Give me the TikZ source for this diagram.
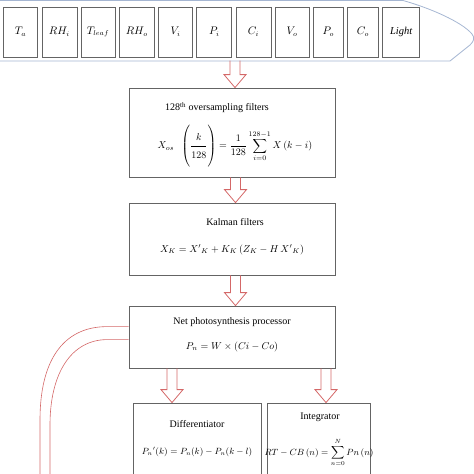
\documentclass[tikz,border=0pt]{standalone}
\usepackage{amsmath}
\usepackage{fontspec}
\setmainfont{Liberation Serif}
\usetikzlibrary{positioning,calc}
\definecolor{boxgray}{RGB}{100,100,100}
\definecolor{arrowred}{RGB}{212,104,104}
\definecolor{stripblue}{RGB}{165,182,210}
\tikzstyle{sensor}=[draw=boxgray,line width=0.8pt,minimum height=50pt,inner sep=0pt,
                font=\fontsize{10.5}{12}\selectfont]
\tikzstyle{stage}=[draw=boxgray,line width=0.8pt,inner sep=0pt,minimum width=206pt]
\tikzstyle{stagetext}=[font=\fontsize{10}{12}\selectfont,inner sep=0pt]
\tikzstyle{smalleq}=[font=\fontsize{9}{11}\selectfont,inner sep=0pt]
\tikzstyle{hollowarrow}=[draw=arrowred,line width=0.8pt,line join=miter]
\tikzstyle{strip}=[draw=stripblue,line width=0.8pt]
\tikzstyle{feedback}=[draw=arrowred,line width=0.6pt]
\newcommand{\blockarrow}[2]{\draw[hollowarrow] let \p1=(#1), \p2=(#2) in
  (\x1-5pt,\y1) -- (\x1-5pt,\y2+13pt) -- (\x1-11pt,\y2+13pt) -- (\x1,\y2)
  -- (\x1+11pt,\y2+13pt) -- (\x1+5pt,\y2+13pt) -- (\x1+5pt,\y1);}

\begin{document}
\begin{tikzpicture}[x=1pt,y=-1pt]
\clip (0,0) rectangle (474,474);

% sensor strip
\draw[strip] (0,0.5) -- (403,0.5) .. controls (430,8) and (462,22) .. (472,34)
  .. controls (475,38) and (474,41) .. (470,45) -- (450,61) -- (0,61);

\node[sensor,minimum width=34.4pt] (ta) at (20.5,32) {$T_a$};
\node[sensor,minimum width=35pt,right=3.4pt of ta] (rhi) {$RH_i$};
\node[sensor,minimum width=34pt,right=3.4pt of rhi] (tleaf) {$T_{leaf}$};
\node[sensor,minimum width=35pt,right=3.4pt of tleaf] (rho) {$RH_o$};
\node[sensor,minimum width=34pt,right=3.4pt of rho] (vi) {$V_i$};
\node[sensor,minimum width=35pt,right=3.4pt of vi] (pi) {$P_i$};
\node[sensor,minimum width=35pt,right=3.4pt of pi] (ci) {$C_i$};
\node[sensor,minimum width=34pt,right=3.4pt of ci] (vo) {$V_o$};
\node[sensor,minimum width=30pt,right=3.4pt of vo] (po) {$P_o$};
\node[sensor,minimum width=31pt,right=3.4pt of po] (co) {$C_o$};
\node[sensor,minimum width=37pt,right=3.4pt of co] (light) {\textit{Light}};

% processing stages
\node[stage,minimum height=89pt] (over) at (232,132.5) {};
\node[stagetext] (overtitle) at ($(over.north)+(-15,20)$) {128\textsuperscript{th} oversampling filters};
\node[stagetext] (overeq) at ($(over.north)+(3,59)$)
  {$X_{os}\;\;\left(\rule[-20pt]{0pt}{44pt}\dfrac{k\rule[-4pt]{0pt}{4pt}}{\rule{0pt}{11pt}128}\right)
   =\dfrac{1}{128}\displaystyle\sum_{i=0}^{128-1} X\,(k-i)$};

\node[stage,minimum height=72pt] (kalman) at (232,239) {};
\node[stagetext] (kalmantitle) at ($(kalman.north)+(3,19)$) {Kalman filters};
\node[stagetext] (kalmaneq) at ($(kalman.north)+(0,47)$) {$X_K = X'{}_K + K_K\,(Z_K - H\,X'{}_K)$};

\node[stage,minimum height=62pt] (net) at (232,337) {};
\node[stagetext] (nettitle) at ($(net.north)+(0,17)$) {Net photosynthesis processor};
\node[stagetext] (neteq) at ($(net.north)+(0,41)$) {$P_n = W \times (Ci - Co)$};

\node[draw=boxgray,line width=0.8pt,minimum width=128pt,minimum height=90pt,inner sep=0pt] (diff) at (197,448) {};
\node[stagetext] (difftitle) at ($(diff.north)+(0,21)$) {Differentiator};
\node[smalleq] (diffeq) at ($(diff.north)+(0,49)$) {$P_n{}'(k) = P_n(k) - P_n(k-l)$};

\node[draw=boxgray,line width=0.8pt,minimum width=103pt,minimum height=90pt,inner sep=0pt] (integ) at (318.5,448) {};
\node[stagetext] (integtitle) at ($(integ.north)+(1.5,15)$) {Integrator};
\node[smalleq] (integeq) at ($(integ.north)+(0.5,50)$) {$RT - CB\,(n) = \displaystyle\sum_{n=0}^{N} Pn\,(n)$};

% block arrows
\blockarrow{$(over.north)+(3,-27)$}{over.north}
\blockarrow{$(over.south)+(3.5,0)$}{kalman.north}
\blockarrow{$(kalman.south)+(3.5,0)$}{net.north}
\blockarrow{$(net.south west)+(43.4,0)$}{diff.north}
\blockarrow{$(net.south east)+(-9.4,0)$}{integ.north}

% feedback path
\coordinate (backA) at (40,474);
\coordinate (backB) at (50,474);
\draw[feedback] ($(net.north west)+(0,21)$) -- ++(-22,0) .. controls (62,327) and (40,362) .. (40,420) -- (backA);
\draw[feedback] ($(net.north west)+(0,34)$) -- ++(-22,0) .. controls (72,340) and (50,372) .. (50,425) -- (backB);

\end{tikzpicture}
\end{document}
